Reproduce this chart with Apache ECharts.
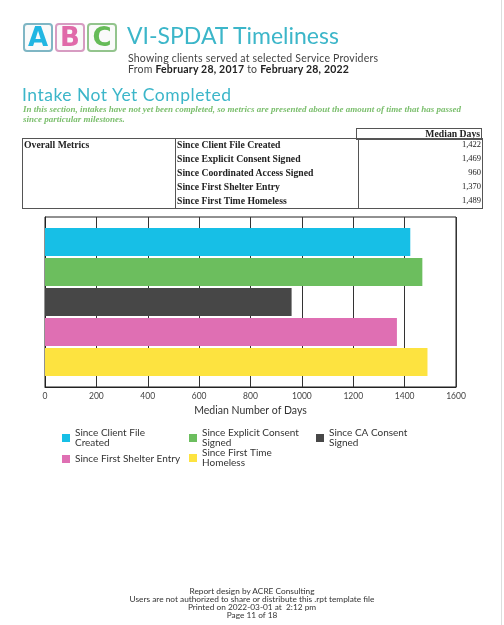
<!DOCTYPE html>
<html><head><meta charset="utf-8">
<script src="https://cdn.jsdelivr.net/npm/echarts@6/dist/echarts.min.js"></script>
<style>
html,body{margin:0;padding:0;background:#fff;width:504px;height:625px;overflow:hidden;}
#chart{position:absolute;left:0;top:0;width:504px;height:625px;}
.abs{position:absolute;white-space:nowrap;}
.box{position:absolute;top:23px;width:26px;height:25px;border:2px solid;border-radius:4px;font-family:"DejaVu Sans";font-weight:bold;font-size:26px;line-height:25px;text-align:center;background:#fafafa;}
.sans{font-family:"Lato","Noto Sans",sans-serif;}
.serif{font-family:"Liberation Serif",serif;}
table.t{position:absolute;border-collapse:collapse;font-family:"Liberation Serif",serif;font-weight:bold;font-size:9.7px;color:#222;}
</style></head>
<body>
<div id="chart"></div>
<div class="box" style="left:23px;border-color:#7fb6c4;color:#22b6e2;">A</div>
<div class="box" style="left:55px;border-color:#d79cc2;color:#e06aa9;">B</div>
<div class="box" style="left:87px;border-color:#93c48d;color:#66bb58;">C</div>
<div class="abs sans" style="left:127px;top:21px;font-size:23px;color:#3cb6c9;">VI-SPDAT Timeliness</div>
<div class="abs sans" style="left:128px;top:53px;font-size:10.5px;letter-spacing:0.2px;color:#444;line-height:11px;">Showing clients served at selected Service Providers<br>From <span style="color:#222;font-weight:bold">February 28, 2017</span> to <span style="color:#222;font-weight:bold">February 28, 2022</span></div>
<div class="abs sans" style="left:22px;top:85px;font-size:17.5px;letter-spacing:0.5px;color:#3cb6c9;line-height:20px;">Intake Not Yet Completed</div>
<div class="abs serif" style="left:23px;top:104px;font-size:9px;line-height:10px;color:#7cbf6e;font-style:italic;font-weight:bold;">In this section, intakes have not yet been completed, so metrics are presented about the amount of time that has passed<br>since particular milestones.</div>
<div id="tbl"></div>
<div class="abs sans" style="left:0;width:504px;top:587px;text-align:center;font-size:8.3px;line-height:8px;color:#333;">Report design by ACRE Consulting<br>Users are not authorized to share or distribute this .rpt template file<br>Printed on 2022-03-01 at &nbsp;2:12 pm<br>Page 11 of 18</div>
<div style="position:absolute;left:501px;top:0;width:1px;height:625px;background:#ddd;"></div>
<script>
const categories = ["Overall Metrics"];
const tableRows = ["Since Client File Created","Since Explicit Consent Signed","Since Coordinated Access Signed","Since First Shelter Entry","Since First Time Homeless"];
const seriesNames = ["Since Client File Created","Since Explicit Consent Signed","Since CA Consent Signed","Since First Shelter Entry","Since First Time Homeless"];
const medianDays = [1422, 1469, 960, 1370, 1489];
const xTicks = [0, 200, 400, 600, 800, 1000, 1200, 1400, 1600];
const colors = ["#17bfe6", "#6cbe5e", "#474747", "#df6fb3", "#fde340"];
const legendLabels = ["Since Client File\nCreated","Since Explicit Consent\nSigned","Since CA Consent\nSigned","Since First Shelter Entry","Since First Time\nHomeless"];

// table
(function(){
  const fmt = v => v.toLocaleString('en-US');
  let h = '<table class="t" style="left:356px;top:128px;"><tr><td style="border:1px solid #555;width:122px;height:9px;text-align:right;padding:0 1px;line-height:10px;">Median Days</td></tr></table>';
  h += '<table class="t" style="left:22px;top:138px;border:1px solid #555;">';
  tableRows.forEach((r,i)=>{
    h += '<tr style="height:14px;line-height:11px;">';
    if(i===0) h += '<td rowspan="5" style="vertical-align:top;width:150px;border-right:1px solid #555;padding:0 1px;">'+categories[0]+'</td>';
    h += '<td style="width:180px;border-right:1px solid #555;padding:0 1px;vertical-align:top;">'+r+'</td>';
    h += '<td style="width:121px;text-align:right;padding:0 1px;vertical-align:top;font-weight:normal;font-size:8.5px;">'+fmt(medianDays[i])+'</td></tr>';
  });
  h += '</table>';
  document.getElementById('tbl').innerHTML = h;
})();

const chart = echarts.init(document.getElementById('chart'));
const legendPos = [[62,428],[189,428],[316,428],[62,454],[189,448]];
chart.setOption({
  animation:false,
  grid:{left:45,right:48,top:217,height:170,containLabel:false,show:true,borderColor:'#222',borderWidth:1},
  xAxis:{type:'value',min:0,max:1600,interval:200,
    name:'Median Number of Days',nameLocation:'middle',nameGap:18,
    nameTextStyle:{fontFamily:'Lato',fontSize:10.5,color:'#333'},
    axisLine:{show:true,lineStyle:{color:'#222'}},axisTick:{show:false},
    axisLabel:{fontFamily:'Lato',fontSize:8.5,color:'#444',margin:5,formatter:v=>xTicks.includes(v)?String(v):''},
    splitLine:{show:true,lineStyle:{color:'#333',width:1}}},
  yAxis:{type:'category',data:categories,inverse:true,axisLabel:{show:false},axisTick:{show:false},
    axisLine:{show:true,lineStyle:{color:'#222'}}},
  legend: seriesNames.map((n,i)=>({data:[n],left:legendPos[i][0],top:legendPos[i][1],padding:0,
    itemWidth:8,itemHeight:8,itemGap:0,icon:'rect',
    formatter:()=>legendLabels[i],
    textStyle:{fontFamily:'Lato',fontSize:10,color:'#333',lineHeight:10,padding:0}})),
  series: seriesNames.map((n,i)=>({name:n,type:'bar',data:[medianDays[i]],
    itemStyle:{color:colors[i]},barGap:'7%',barCategoryGap:'13%'}))
});
</script>
</body></html>
